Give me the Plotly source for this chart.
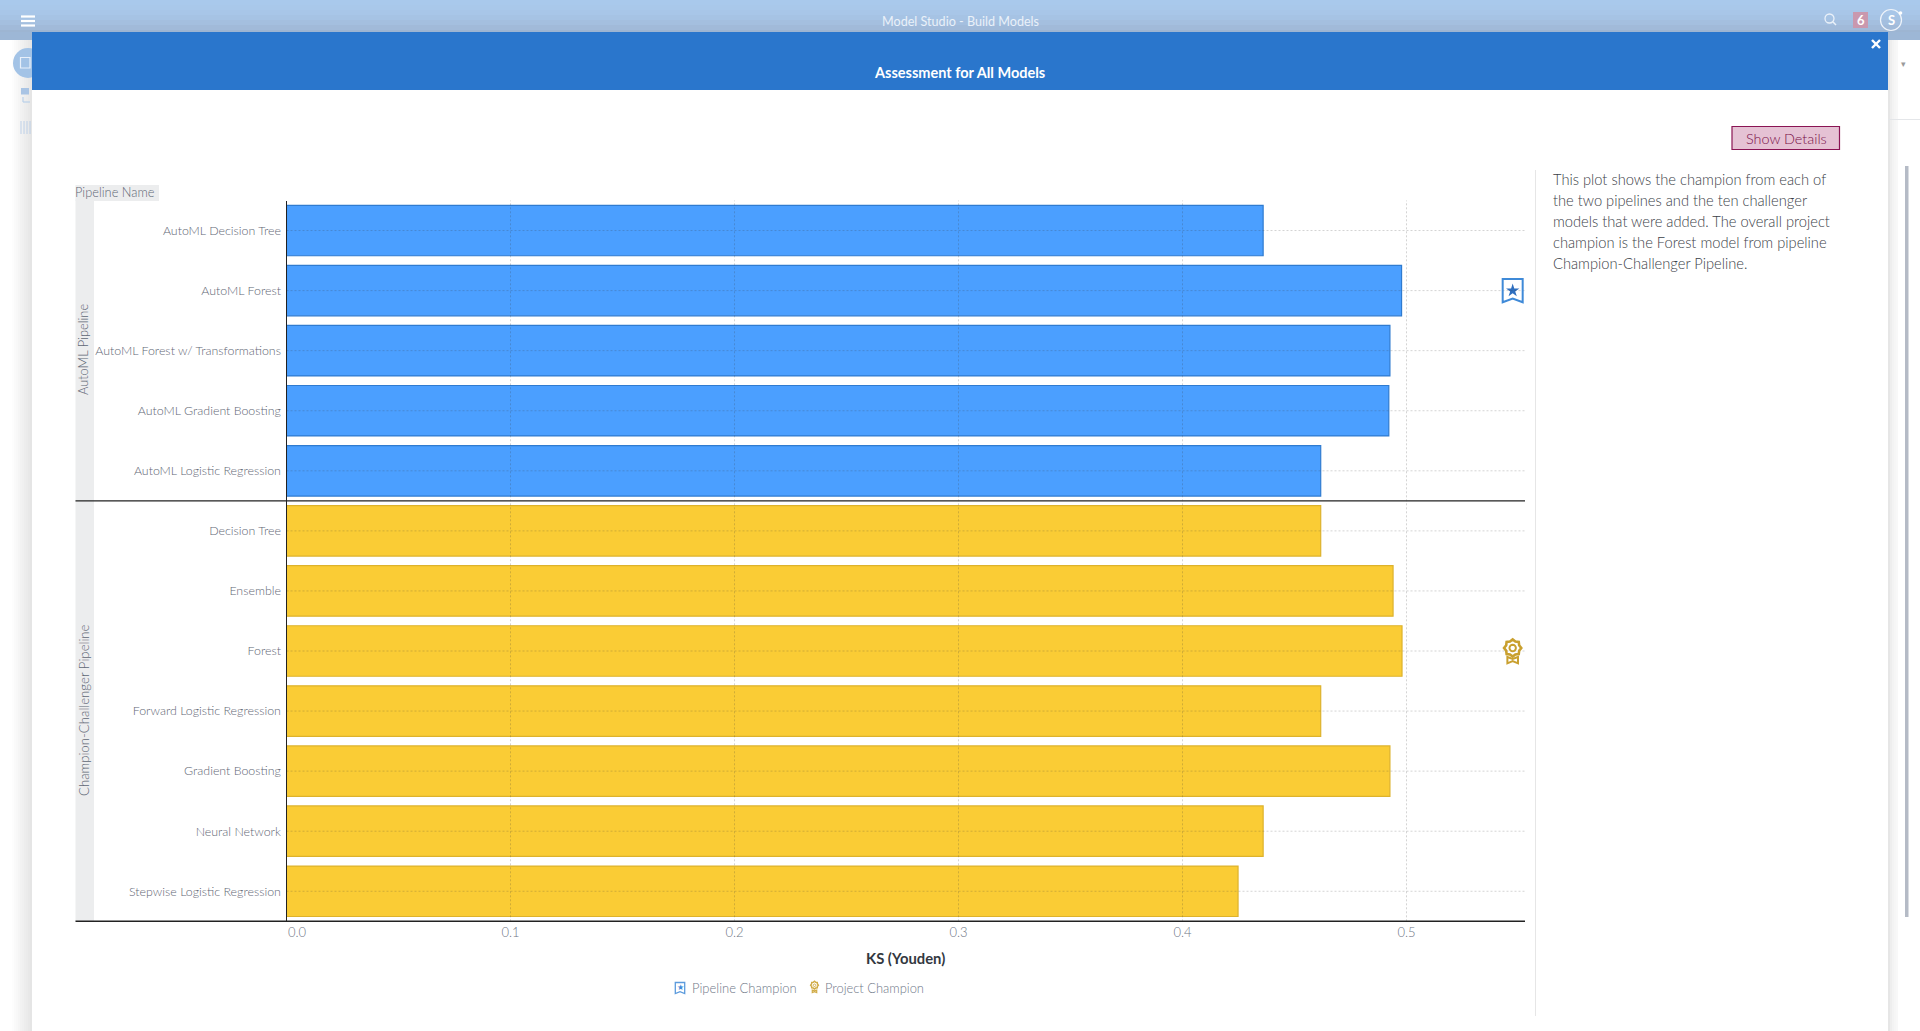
import math
import plotly.graph_objects as go

W, H = 1920, 1031
FONT = "Lato"

# ---------- data ----------
automl_models = ["AutoML Decision Tree", "AutoML Forest", "AutoML Forest w/ Transformations",
                 "AutoML Gradient Boosting", "AutoML Logistic Regression"]
automl_ks = [0.436, 0.4978, 0.4926, 0.4921, 0.4617]
cc_models = ["Decision Tree", "Ensemble", "Forest", "Forward Logistic Regression",
             "Gradient Boosting", "Neural Network", "Stepwise Logistic Regression"]
cc_ks = [0.4617, 0.494, 0.498, 0.4617, 0.4926, 0.436, 0.4248]
x_ticks = [0.1, 0.2, 0.3, 0.4, 0.5]
x_tick_text = ["0.1", "0.2", "0.3", "0.4", "0.5"]
zero_tick_text = "0.0"
icon_column = 0.5474
pipeline_champion = "AutoML Forest"
project_champion = "Forest"
description = ["This plot shows the champion from each of",
               "the two pipelines and the ten challenger",
               "models that were added. The overall project",
               "champion is the Forest model from pipeline",
               "Champion-Challenger Pipeline."]
all_models = automl_models + cc_models


def X(v):
    return v / W


def Y(v):
    return 1 - v / H


shapes = []
ann = []


def rect(x0, y0, x1, y1, fill, line=None, lw=1, layer="below"):
    shapes.append(dict(type="rect", xref="paper", yref="paper", x0=X(x0), x1=X(x1), y0=Y(y0), y1=Y(y1),
                       fillcolor=fill, line=dict(color=line or "rgba(0,0,0,0)", width=lw if line else 0),
                       layer=layer))


def seg(x0, y0, x1, y1, color, lw=1, layer="below"):
    shapes.append(dict(type="line", xref="paper", yref="paper", x0=X(x0), x1=X(x1), y0=Y(y0), y1=Y(y1),
                       line=dict(color=color, width=lw), layer=layer))


def circ(cx, cy, r, fill, line=None, lw=1, layer="below"):
    shapes.append(dict(type="circle", xref="paper", yref="paper", x0=X(cx - r), x1=X(cx + r), y0=Y(cy - r),
                       y1=Y(cy + r), fillcolor=fill,
                       line=dict(color=line or "rgba(0,0,0,0)", width=lw if line else 0), layer=layer))


def text(x, y, s, size=12, color="#6F7785", anchor="left", weight=400, angle=0):
    ann.append(dict(xref="paper", yref="paper", x=X(x), y=Y(y), text=s, showarrow=False, xanchor=anchor,
                    yanchor="middle", textangle=angle, borderpad=0,
                    font=dict(family=FONT, size=size, color=color, weight=weight)))


# ---------- app chrome ----------
top_cols = ["#A9C9EC", "#A9C8EA", "#A8C6E8", "#A6C3E4", "#A4BFDF", "#A1BAD9", "#9DB5D2", "#99B0CC"]
for i, c in enumerate(top_cols):
    rect(0, i * 5, W, (i + 1) * 5, c)
rect(0, 32, W, 40, "#9DB7D6")
for yy in (16.5, 21, 25.5):
    seg(21, yy, 35, yy, "#FFFFFF", 2.2)
text(960, 21.5, "Model Studio - Build Models", 12.6, "#EAF1F9", "center")
# left rail: soft shadow towards the dialog, then icons
for i in range(10):
    g = 255 - int((i + 1) * 2.6)
    rect(12 + i * 2, 40, 14 + i * 2, H, f"rgb({g},{g},{g})")
circ(28, 63, 15, "#A3C3E6")
rect(20.5, 57.5, 30, 68, "rgba(0,0,0,0)", "#E8F0FA", 1.2)
rect(21, 88, 29, 94.5, "#A9C4E4")
seg(23, 97, 23, 102, "#B9D0EA", 1.2)
seg(23, 102, 30, 102, "#B9D0EA", 1.2)
for xx in (21, 24, 27, 30):
    seg(xx, 121, xx, 134, "rgba(170,195,230,0.7)", 1)
# right rail
for i, c in enumerate(["#E6E6E6", "#EEEEEE", "#F3F3F3", "#F6F6F6", "#F8F8F8"]):
    rect(1888 + i * 2, 40, 1890 + i * 2, H, c)
seg(1888, 119.5, W, 119.5, "#E4E6E9", 1)
rect(1905, 166, 1908.5, 917, "#B5BBC6")
# top-right widgets
circ(1829.5, 18.5, 4.5, "rgba(0,0,0,0)", "#EAF1F9", 1.3)
seg(1832.8, 21.8, 1836, 25, "#EAF1F9", 1.5)
rect(1853, 12, 1868, 28, "#C998AE")
text(1860.5, 20, "6", 13, "#FFFFFF", "center", 700)
circ(1891, 20, 10.5, "rgba(0,0,0,0)", "#EFF4FA", 1.2)
circ(1900.5, 13, 1.8, "#FFFFFF")
text(1891, 20, "S", 13, "#FFFFFF", "center", 700)
text(1903.5, 63, "▾", 9, "#9A9A9A", "center")

# ---------- modal ----------
rect(32, 32, 1888, H, "#FFFFFF")
rect(32, 32, 1888, 90, "#2A76CC")
text(959, 72.8, "Assessment for All Models", 14.5, "#FFFFFF", "center", 700)
seg(1872, 40, 1880, 48, "#FFFFFF", 2.4)
seg(1872, 48, 1880, 40, "#FFFFFF", 2.4)
rect(1732, 126.5, 1839.5, 149.5, "#E5C2D4", "#8A1454", 1.2)
text(1786, 138, "Show Details", 14.4, "#7A0F48", "center", 300)
seg(1535.5, 170, 1535.5, 1016, "#E6E6E6", 1)
for i, line in enumerate(description):
    text(1552, 179 + i * 21, line, 14.7, "#3B4148", "left", 300)

# strips
PLOT_L, PLOT_R, PLOT_T, PLOT_B = 286.5, 1525, 200.5, 921.3
rect(75.5, 185, 159, 201, "#ECEDEE")
rect(75.5, 199.5, 94, PLOT_B, "#ECEDEE")
text(74, 191.5, "Pipeline Name", 12.8, "#5F6775", "left", 300)
text(83.5, 349.5, "AutoML Pipeline", 12.8, "#5F6775", "center", 300, -90)
text(83.5, 710.5, "Champion-Challenger Pipeline", 13.2, "#5F6775", "center", 300, -90)

# group separator and bottom axis
sep_y = PLOT_T + (PLOT_B - PLOT_T) * len(automl_models) / len(all_models)
seg(75.5, sep_y, PLOT_R, sep_y, "#222222", 1.2, "above")
seg(75.5, PLOT_B, PLOT_R, PLOT_B, "#222222", 1.4, "above")

# gridlines over the bars
GRID = "rgba(60,60,60,0.22)"
for t in x_ticks:
    shapes.append(dict(type="line", xref="x", yref="y domain", x0=t, x1=t, y0=0, y1=1,
                       line=dict(color=GRID, width=1, dash="2px,2px"), layer="above"))
for m in all_models:
    shapes.append(dict(type="line", xref="x domain", yref="y", x0=0, x1=1.001, y0=m, y1=m,
                       line=dict(color=GRID, width=1, dash="2px,2px"), layer="above"))

# tick labels
text(297.5, 931.5, zero_tick_text, 13, "#6F7685", "center", 300)
text(905, 957.5, "KS (Youden)", 14.8, "#333840", "center", 700)

# ---------- icons ----------
BLUE_ICON = "#3F8AD8"
GOLD_ICON = "#C9A02F"


def bookmark(s):
    return (f"M{-10*s},{11.7*s} L{10*s},{11.7*s} L{10*s},{-11.7*s} L0,{-8*s} L{-10*s},{-11.7*s} Z")


def rosette_ring(s):
    pts = []
    for i in range(16):
        r = (8.6 if i % 2 == 0 else 7.0) * s
        a = math.pi * i / 8
        pts.append(f"{r*math.cos(a):.2f},{(r*math.sin(a)+3*s):.2f}")
    return "M" + " L".join(pts) + " Z"


def rosette_core(s):
    pts = []
    for i in range(16):
        a = math.pi * i / 8
        pts.append(f"{3.2*s*math.cos(a):.2f},{(3.2*s*math.sin(a)+3*s):.2f}")
    return "M" + " L".join(pts) + " Z"


def ribbon(s):
    return (f"M{-5.3*s},{-6*s} L{-5.3*s},{-12.3*s} L0,{-10*s} L{5.3*s},{-12.3*s} L{5.3*s},{-6*s} L0,{-8*s} Z")


def pixel_icon(path, xa, ya, color, lw=2, fill="rgba(0,0,0,0)", xref="x", yref="y"):
    shapes.append(dict(type="path", path=path, xsizemode="pixel", ysizemode="pixel", xanchor=xa, yanchor=ya,
                       xref=xref, yref=yref, line=dict(color=color, width=lw), fillcolor=fill, layer="above"))


pixel_icon(bookmark(1), icon_column, pipeline_champion, BLUE_ICON)
pixel_icon(rosette_ring(1), icon_column, project_champion, GOLD_ICON, 2.6)
pixel_icon(rosette_core(1), icon_column, project_champion, GOLD_ICON, 2)
pixel_icon(ribbon(1), icon_column, project_champion, GOLD_ICON, 2)

# legend
pixel_icon(bookmark(0.47), X(680), Y(988), "#5C9BDD", 1.3, xref="paper", yref="paper")
text(680, 987.5, "★", 7.5, "#3F8AD8", "center")
pixel_icon(rosette_ring(0.45), X(814.5), Y(986.5), "#D1AC48", 1.5, xref="paper", yref="paper")
pixel_icon(rosette_core(0.4), X(814.5), Y(986.5), "#D1AC48", 1, xref="paper", yref="paper")
pixel_icon(ribbon(0.42), X(814.5), Y(987.5), "#D1AC48", 1.2, xref="paper", yref="paper")
text(691, 988, "Pipeline Champion", 13, "#6F7888", "left", 300)
text(824, 988, "Project Champion", 12.9, "#6F7888", "left", 300)

# ---------- traces ----------
fig = go.Figure()
fig.add_trace(go.Bar(name="AutoML Pipeline", y=automl_models, x=automl_ks, orientation="h", width=0.84,
                     marker=dict(color="#4B9FFF", line=dict(color="#2F7BD0", width=1.2))))
fig.add_trace(go.Bar(name="Champion-Challenger Pipeline", y=cc_models, x=cc_ks, orientation="h", width=0.84,
                     marker=dict(color="#FACC35", line=dict(color="#DDB22C", width=1.2))))
fig.add_trace(go.Scatter(x=[icon_column], y=[pipeline_champion], mode="markers",
                         marker=dict(symbol="star", size=10, color="#2F6FBF", line=dict(width=0))))

fig.update_layout(
    width=W, height=H, autosize=False, margin=dict(l=0, r=0, t=0, b=0),
    paper_bgcolor="#FFFFFF", plot_bgcolor="rgba(0,0,0,0)", showlegend=False, barmode="overlay",
    font=dict(family=FONT),
    shapes=shapes, annotations=ann,
    xaxis=dict(domain=[X(PLOT_L), X(PLOT_R)], range=[0, (PLOT_R - PLOT_L) / 2240], tickmode="array",
               tickvals=x_ticks, ticktext=x_tick_text, showgrid=False, zeroline=False, showline=False,
               ticks="", tickfont=dict(family=FONT, size=13, color="#6F7685", weight=300), ticklabelstandoff=2),
    yaxis=dict(domain=[Y(PLOT_B), Y(PLOT_T)], type="category", categoryorder="array",
               categoryarray=all_models, autorange="reversed", showgrid=False, zeroline=False,
               showline=True, linecolor="#222222", linewidth=1.2, ticks="",
               tickfont=dict(family=FONT, size=12.4, color="#5F6775", weight=300), ticklabelstandoff=2),
)
fig.write_html("out.html", config=dict(displayModeBar=False),
               post_script="document.body.style.margin='0';document.body.style.overflow='hidden';")
